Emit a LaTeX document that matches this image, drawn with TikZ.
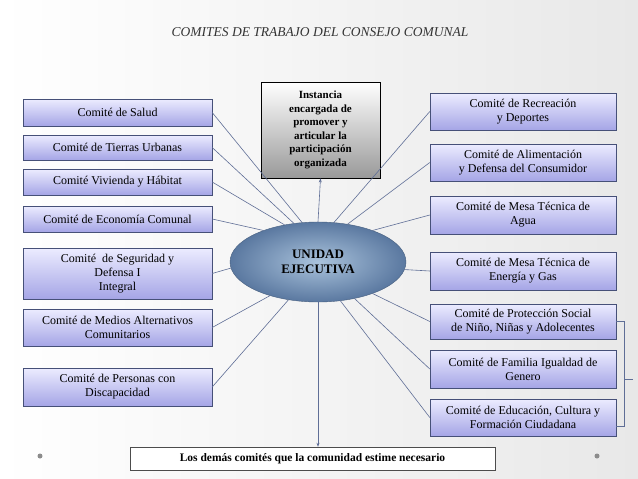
\documentclass[tikz,border=0pt]{standalone}
\usepackage{fontspec}
\setmainfont{Liberation Serif}
\usetikzlibrary{shapes.geometric,arrows.meta}
\definecolor{bgc}{RGB}{232,232,232}
\definecolor{lt}{RGB}{236,236,255}
\definecolor{lb}{RGB}{165,165,230}
\definecolor{bx}{RGB}{70,80,120}
\definecolor{ln}{RGB}{95,110,150}
\definecolor{ell1}{RGB}{170,195,220}
\definecolor{ell2}{RGB}{90,120,160}
\tikzset{
 cbox/.style={draw=bx,top color=lt,bottom color=lb,align=center,font=\fontsize{12}{14}\selectfont,inner sep=1pt},
 conn/.style={draw=ln,line width=0.6pt}
}
\begin{document}
\begin{tikzpicture}[x=1pt,y=-1pt]
\useasboundingbox (0,0) rectangle (638,479);
\fill[left color=white,right color=bgc] (0,0) rectangle (638,479);
\node[font=\itshape\fontsize{13.5}{15}\selectfont,text=black!80] (title) at (320,32) {COMITES DE TRABAJO DEL CONSEJO COMUNAL};
\node[ellipse,draw=ell2!80!black,inner color=ell1,outer color=ell2,minimum width=176,minimum height=80,align=center,font=\bfseries\fontsize{13}{15}\selectfont] (ue) at (318,262) {UNIDAD\\EJECUTIVA};
\node[draw=black,line width=0.8pt,top color=white,bottom color=black!40,minimum width=119,minimum height=96,align=center,font=\bfseries\fontsize{11}{13.5}\selectfont,inner sep=1pt] (inst) at (320.5,130) {Instancia\\encargada de\\promover y\\articular la\\participación\\organizada};
\node[draw=black!70,fill=white,minimum width=365,minimum height=23,font=\bfseries\fontsize{11.5}{13}\selectfont] (bot) at (312.5,458.5) {Los demás comités que la comunidad estime necesario};
% left
\node[cbox,minimum width=189,minimum height=27] (l1) at (117.5,112.5) {Comité de Salud};
\node[cbox,minimum width=189,minimum height=25] (l2) at (117.5,147.5) {Comité de Tierras Urbanas};
\node[cbox,minimum width=189,minimum height=26] (l3) at (117.5,182) {Comité Vivienda y Hábitat};
\node[cbox,minimum width=189,minimum height=26] (l4) at (117.5,219) {Comité de Economía Comunal};
\node[cbox,minimum width=189,minimum height=51] (l5) at (117.5,273.5) {Comité \ de Seguridad y\\Defensa I\\Integral};
\node[cbox,minimum width=189,minimum height=37] (l6) at (117.5,327.5) {Comité de Medios Alternativos\\Comunitarios};
\node[cbox,minimum width=189,minimum height=38] (l7) at (117.5,387) {Comité de Personas con\\Discapacidad};
% right
\node[cbox,minimum width=186,minimum height=37] (r1) at (523,111.5) {Comité de Recreación\\y Deportes};
\node[cbox,minimum width=186,minimum height=37] (r2) at (523,162.5) {Comité de Alimentación\\y Defensa del Consumidor};
\node[cbox,minimum width=186,minimum height=38] (r3) at (523,215) {Comité de Mesa Técnica de\\Agua};
\node[cbox,minimum width=186,minimum height=38] (r4) at (523,271) {Comité de Mesa Técnica de\\Energía y Gas};
\node[cbox,minimum width=186,minimum height=35] (r5) at (523,321.5) {Comité de Protección Social\\de Niño, Niñas y Adolecentes};
\node[cbox,minimum width=186,minimum height=38] (r6) at (523,369) {Comité de Familia Igualdad de\\Genero};
\node[cbox,minimum width=186,minimum height=37] (r7) at (523,417.5) {Comité de Educación, Cultura y\\Formación Ciudadana};
% connectors
\draw[conn] (l1.east) -- (ue.112);
\draw[conn] (l2.east) -- (ue.122);
\draw[conn] (l3.east) -- (ue.132);
\draw[conn] (l4.east) -- (ue.150);
\draw[conn] (l5.east) -- (ue.184);
\draw[conn] (l6.east) -- (ue.215);
\draw[conn] (l7.east) -- (ue.232);
\draw[conn] (r1.west) -- (ue.68);
\draw[conn] (r2.west) -- (ue.52);
\draw[conn] (r3.west) -- (ue.30);
\draw[conn] (r4.west) -- (ue.355);
\draw[conn] (r5.west) -- (ue.330);
\draw[conn] (r6.west) -- (ue.315);
\draw[conn] (r7.west) -- (ue.300);
\draw[conn,-{Stealth[length=4pt,width=3pt]}] (ue.north) -- (inst.south);
\draw[conn,-{Stealth[length=4pt,width=3pt]}] (ue.south) -- (bot.north -| ue.south);
\coordinate (b1) at (624,321);
\coordinate (b2) at (624,426);
\coordinate (bm) at (633,379);
\draw[conn] (r5.east|-b1) -- (b1) -- (b2) -- (r7.east|-b2);
\draw[conn] (b1|-bm) -- (bm);
\fill[black!45] (40,456) circle (2.5) (597,456) circle (2.5);
\end{tikzpicture}
\end{document}
